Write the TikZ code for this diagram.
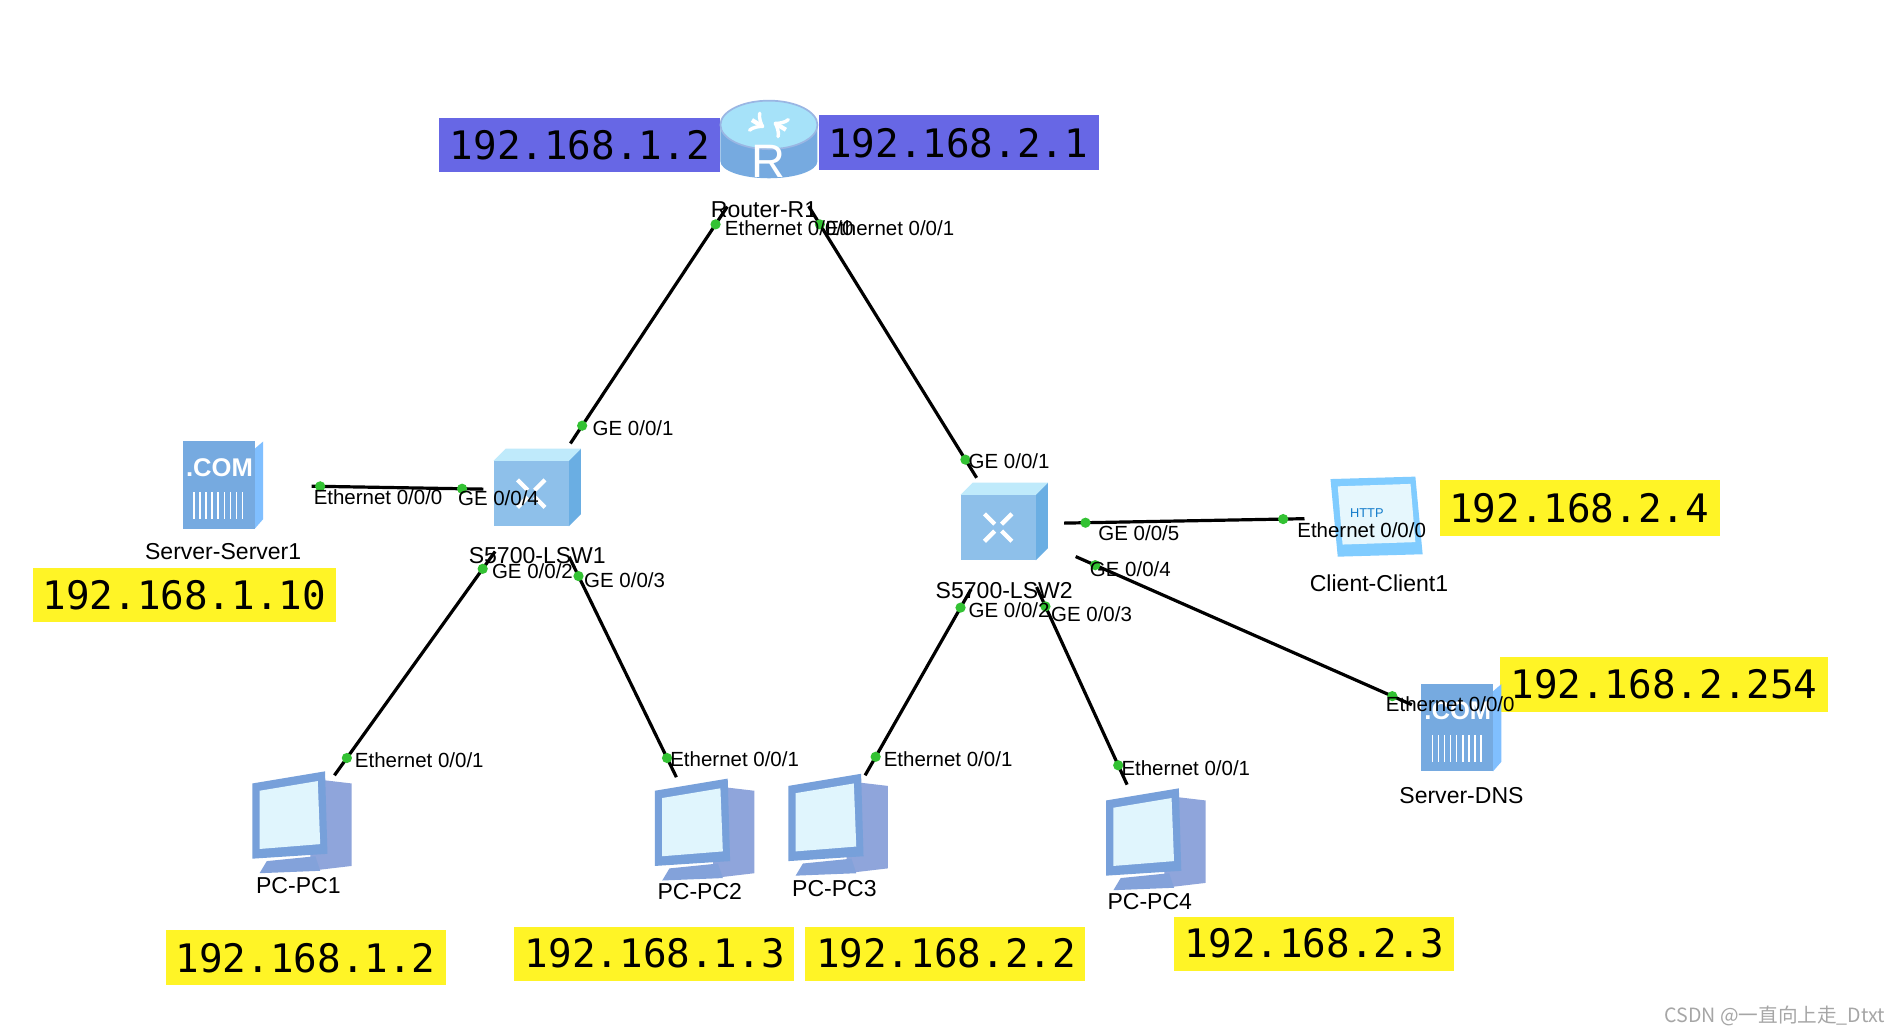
\documentclass[tikz,border=0pt]{standalone}
\usepackage{fontspec}
\setmainfont{Liberation Sans}
\newfontfamily\ipfont{DejaVu Sans Mono}
\newfontfamily\cjk{Noto Sans CJK SC}
\begin{document}
\begin{tikzpicture}[x=0.01cm,y=-0.01cm,
  port/.style={font=\fontsize{4.8pt}{5pt}\selectfont,inner sep=0pt},
  dev/.style={font=\fontsize{5.4pt}{6pt}\selectfont,inner sep=0pt},
  dot/.style={circle,fill=green!70!black!80,inner sep=0pt,minimum size=2.4pt},
  link/.style={line width=0.75pt,shorten <=-5pt,shorten >=-5pt},
  ylw/.style={fill=yellow!85!white,draw=none},
  blu/.style={fill=blue!55!white!90!black,draw=none},
  ip/.style={font=\ipfont\fontsize{9.2pt}{10pt}\selectfont,inner sep=0pt}]
\useasboundingbox (0,0) rectangle (1560,849);
\fill[white] (0,0) rectangle (1560,849);
% IP boxes
\fill[blu] (362,97) rectangle (594,142); \node[ip] (ipr0) at (478,120) {192.168.1.2};
\fill[blu] (675,95) rectangle (906,140); \node[ip] (ipr1) at (790,118) {192.168.2.1};
\fill[ylw] (27,468) rectangle (277,513); \node[ip] (ips1) at (152,491) {192.168.1.10};
\fill[ylw] (1187,396) rectangle (1418,442); \node[ip] (ipc1) at (1302,419) {192.168.2.4};
\fill[ylw] (1237,542) rectangle (1507,587); \node[ip] (ipdns) at (1372,564) {192.168.2.254};
\fill[ylw] (137,767) rectangle (368,812); \node[ip] (ip1) at (252,790) {192.168.1.2};
\fill[ylw] (424,764) rectangle (655,809); \node[ip] (ip2) at (540,786) {192.168.1.3};
\fill[ylw] (664,764) rectangle (895,809); \node[ip] (ip3) at (780,786) {192.168.2.2};
\fill[ylw] (968,756) rectangle (1199,801); \node[ip] (ip4) at (1084,778) {192.168.2.3};
% port coordinates
\coordinate (r0) at (590,185); \coordinate (r1) at (676,185);
\coordinate (a1) at (480,351); \coordinate (a4) at (381,403); \coordinate (a2) at (398,469); \coordinate (a3) at (477,475);
\coordinate (b1) at (796,379); \coordinate (b5) at (895,431); \coordinate (b4) at (903,466); \coordinate (b2) at (792,501); \coordinate (b3) at (862,500);
\coordinate (s1) at (264,401); \coordinate (c1) at (1058,428); \coordinate (dn) at (1148,574);
\coordinate (p1) at (286,625); \coordinate (p2) at (550,625); \coordinate (p3) at (722,624); \coordinate (p4) at (922,631);
% links
\draw[link] (r0) -- (a1); \draw[link] (r1) -- (b1);
\draw[link,shorten <=-2pt] (s1) -- (a4); \draw[link] (a2) -- (p1); \draw[link] (a3) -- (p2);
\draw[link] (b2) -- (p3); \draw[link] (b3) -- (p4); \draw[link] (b5) -- (c1); \draw[link] (b4) -- (dn);
% router
\begin{scope}[shift={(634,115)}]
\fill[cyan!60!blue!55!white] (-40,-12) -- (-40,18) arc[x radius=40,y radius=14,start angle=180,end angle=0] -- (40,-12) -- cycle;
\fill[cyan!35!white,draw=cyan!50!blue!40!white] (0,-12) ellipse [x radius=40,y radius=20];
\node[white,font=\fontsize{11pt}{11pt}\selectfont,inner sep=0pt] (rl) at (0,18) {R};
\draw[white,line width=1pt,->] (-14,-16)--(-4,-10); \draw[white,line width=1pt,->] (14,-8)--(4,-14);
\end{scope}
% switches
\foreach \cx/\cy in {443/402,828/430}{
\begin{scope}[shift={(\cx,\cy)}]
\fill[cyan!70!blue!60!white] (26,-22) -- (36,-32) -- (36,22) -- (26,32) -- cycle;
\fill[cyan!25!white] (-36,-22) -- (-26,-32) -- (36,-32) -- (26,-22) -- cycle;
\fill[cyan!70!blue!45!white] (-36,-22) rectangle (26,32);
\foreach \a in {45,135,225,315} \draw[white,line width=1pt] ({-5+4*cos(\a)},{5+4*sin(\a)}) -- ({-5+16*cos(\a)},{5+16*sin(\a)});
\end{scope}}
% servers
\foreach \cx/\cy in {184/398,1205/598}{
\begin{scope}[shift={(\cx,\cy)}]
\fill[blue!50!cyan!50!white] (26,-28) -- (33,-34) -- (33,30) -- (26,38) -- cycle;
\fill[cyan!60!blue!55!white] (-33,-34) rectangle (26,38);
\node[white,font=\bfseries\fontsize{6pt}{6pt}\selectfont,inner sep=0pt] at (-3,-12) {.COM};
\foreach \i in {-24,-19,...,16} \draw[white,line width=0.4pt] (\i,8) -- (\i,30);
\end{scope}}
% client
\begin{scope}[shift={(1135,425)}]
\fill[blue!40!cyan!50!white] (-38,-30) -- (32,-32) -- (38,32) -- (-32,34) -- cycle;
\fill[cyan!10!white] (-32,-24) -- (28,-26) -- (32,22) -- (-28,24) -- cycle;
\node[cyan!60!blue,font=\fontsize{3pt}{3pt}\selectfont,inner sep=0pt] at (-8,-2) {HTTP};
\end{scope}
% PCs
\foreach \cx/\cy in {248/676,580/682,690/678,952/690}{
\begin{scope}[shift={(\cx,\cy)}]
\fill[cyan!40!blue!45!white] (8,-34) -- (42,-30) -- (42,38) -- (8,42) -- cycle;
\fill[cyan!50!blue!55!white] (-40,-30) -- (20,-40) -- (22,28) -- (-40,32) -- cycle;
\fill[cyan!12!white] (-34,-24) -- (14,-32) -- (16,20) -- (-34,24) -- cycle;
\fill[cyan!45!blue!50!white] (-28,34) -- (12,30) -- (16,42) -- (-34,44) -- cycle;
\end{scope}}
% device labels
\node[dev] (lr) at (630,173) {Router-R1};
\node[dev] (l1) at (443,458) {S5700-LSW1};
\node[dev] (l2) at (828,487) {S5700-LSW2};
\node[dev] (ls) at (184,455) {Server-Server1};
\node[dev] (lc) at (1137,481) {Client-Client1};
\node[dev] (ld) at (1205,656) {Server-DNS};
\node[dev] (lp1) at (246,730) {PC-PC1};
\node[dev] (lp2) at (577,735) {PC-PC2};
\node[dev] (lp3) at (688,733) {PC-PC3};
\node[dev] (lp4) at (948,743) {PC-PC4};
% port labels and dots
\foreach \p in {r0,r1,a1,a4,a2,a3,b1,b5,b4,b2,b3,s1,c1,dn,p1,p2,p3,p4} \node[dot] at (\p) {};
\node[port,anchor=west] (tr0) at (597,188) {Ethernet 0/0/0};
\node[port,anchor=west] (tr1) at (680,188) {Ethernet 0/0/1};
\node[port,anchor=west] (ta1) at (488,353) {GE 0/0/1};
\node[port,anchor=west] (ta4) at (377,411) {GE 0/0/4};
\node[port,anchor=west] (ta2) at (405,471) {GE 0/0/2};
\node[port,anchor=west] (ta3) at (481,478) {GE 0/0/3};
\node[port,anchor=west] (tb1) at (798,380) {GE 0/0/1};
\node[port,anchor=west] (tb5) at (905,440) {GE 0/0/5};
\node[port,anchor=west] (tb4) at (898,469) {GE 0/0/4};
\node[port,anchor=west] (tb2) at (798,503) {GE 0/0/2};
\node[port,anchor=west] (tb3) at (866,506) {GE 0/0/3};
\node[port,anchor=west] (ts1) at (258,410) {Ethernet 0/0/0};
\node[port,anchor=west] (tc1) at (1069,437) {Ethernet 0/0/0};
\node[port,anchor=west] (tdn) at (1142,581) {Ethernet 0/0/0};
\node[port,anchor=west] (tp1) at (292,627) {Ethernet 0/0/1};
\node[port,anchor=west] (tp2) at (552,626) {Ethernet 0/0/1};
\node[port,anchor=west] (tp3) at (728,626) {Ethernet 0/0/1};
\node[port,anchor=west] (tp4) at (924,633) {Ethernet 0/0/1};
\node[font=\cjk\fontsize{4.6pt}{5pt}\selectfont,text=gray!70,anchor=east,inner sep=0pt] (wm) at (1555,838) {CSDN @一直向上走\_Dtxt};
\end{tikzpicture}
\end{document}
